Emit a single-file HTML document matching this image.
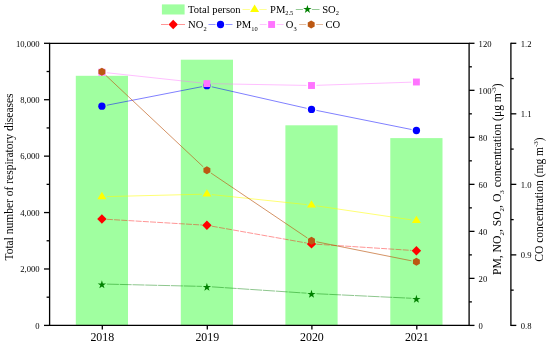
<!DOCTYPE html>
<html><head><meta charset="utf-8"><title>Respiratory diseases and pollutant concentrations</title>
<style>html,body{margin:0;padding:0;background:#fff}svg{display:block}text{font-family:"Liberation Serif","Times New Roman",serif;fill:#000}</style></head><body>
<svg width="550" height="347" viewBox="0 0 550 347">
<rect width="550" height="347" fill="#fff"/>
<rect x="75.80" y="75.80" width="52.2" height="249.60" fill="#A0FFA0"/>
<rect x="180.80" y="59.70" width="52.2" height="265.70" fill="#A0FFA0"/>
<rect x="285.40" y="125.30" width="52.2" height="200.10" fill="#A0FFA0"/>
<rect x="390.30" y="138.10" width="52.2" height="187.30" fill="#A0FFA0"/>
<line x1="106.90" y1="196.58" x2="201.90" y2="194.22" stroke="#FFFF00" stroke-width="0.55"/>
<line x1="211.87" y1="194.62" x2="306.53" y2="204.58" stroke="#FFFF00" stroke-width="0.55"/>
<line x1="316.45" y1="205.83" x2="411.45" y2="219.87" stroke="#FFFF00" stroke-width="0.55"/>
<line x1="106.90" y1="284.12" x2="201.90" y2="286.38" stroke="#008000" stroke-width="0.45" stroke-dasharray="12 0.8"/>
<line x1="211.89" y1="286.83" x2="306.51" y2="293.17" stroke="#008000" stroke-width="0.45" stroke-dasharray="12 0.8"/>
<line x1="316.49" y1="293.74" x2="411.41" y2="298.26" stroke="#008000" stroke-width="0.45" stroke-dasharray="12 0.8"/>
<line x1="106.89" y1="219.30" x2="201.91" y2="225.00" stroke="#FF0000" stroke-width="0.42" stroke-dasharray="6 1.2"/>
<line x1="211.82" y1="226.18" x2="306.58" y2="243.02" stroke="#FF0000" stroke-width="0.42" stroke-dasharray="6 1.2"/>
<line x1="316.49" y1="244.22" x2="411.41" y2="250.38" stroke="#FF0000" stroke-width="0.42" stroke-dasharray="6 1.2"/>
<line x1="106.81" y1="105.24" x2="201.99" y2="86.66" stroke="#0000FF" stroke-width="0.5"/>
<line x1="211.78" y1="86.80" x2="306.62" y2="108.30" stroke="#0000FF" stroke-width="0.5"/>
<line x1="316.40" y1="110.39" x2="411.50" y2="129.51" stroke="#0000FF" stroke-width="0.5"/>
<line x1="106.87" y1="72.74" x2="201.93" y2="83.06" stroke="#FF70FF" stroke-width="0.45"/>
<line x1="211.90" y1="83.69" x2="306.50" y2="85.41" stroke="#FF70FF" stroke-width="0.45"/>
<line x1="316.50" y1="85.33" x2="411.40" y2="82.17" stroke="#FF70FF" stroke-width="0.45"/>
<line x1="105.54" y1="75.12" x2="203.26" y2="166.88" stroke="#BC5812" stroke-width="0.65"/>
<line x1="211.05" y1="173.09" x2="307.35" y2="238.01" stroke="#BC5812" stroke-width="0.65"/>
<line x1="316.40" y1="241.78" x2="411.50" y2="260.82" stroke="#BC5812" stroke-width="0.65"/>
<polygon points="101.90,191.80 97.40,199.20 106.40,199.20" fill="#FFFF00"/>
<polygon points="206.90,189.20 202.40,196.60 211.40,196.60" fill="#FFFF00"/>
<polygon points="311.50,200.20 307.00,207.60 316.00,207.60" fill="#FFFF00"/>
<polygon points="416.40,215.70 411.90,223.10 420.90,223.10" fill="#FFFF00"/>
<polygon points="101.90,280.35 102.89,283.39 106.08,283.39 103.50,285.27 104.49,288.31 101.90,286.43 99.31,288.31 100.30,285.27 97.72,283.39 100.91,283.39" fill="#008000"/>
<polygon points="206.90,282.85 207.89,285.89 211.08,285.89 208.50,287.77 209.49,290.81 206.90,288.93 204.31,290.81 205.30,287.77 202.72,285.89 205.91,285.89" fill="#008000"/>
<polygon points="311.50,289.85 312.49,292.89 315.68,292.89 313.10,294.77 314.09,297.81 311.50,295.93 308.91,297.81 309.90,294.77 307.32,292.89 310.51,292.89" fill="#008000"/>
<polygon points="416.40,294.85 417.39,297.89 420.58,297.89 418.00,299.77 418.99,302.81 416.40,300.93 413.81,302.81 414.80,299.77 412.22,297.89 415.41,297.89" fill="#008000"/>
<polygon points="101.90,214.30 106.60,219.00 101.90,223.70 97.20,219.00" fill="#FF0000"/>
<polygon points="206.90,220.60 211.60,225.30 206.90,230.00 202.20,225.30" fill="#FF0000"/>
<polygon points="311.50,239.20 316.20,243.90 311.50,248.60 306.80,243.90" fill="#FF0000"/>
<polygon points="416.40,246.00 421.10,250.70 416.40,255.40 411.70,250.70" fill="#FF0000"/>
<circle cx="101.90" cy="106.20" r="3.65" fill="#0000FF"/>
<circle cx="206.90" cy="85.70" r="3.65" fill="#0000FF"/>
<circle cx="311.50" cy="109.40" r="3.65" fill="#0000FF"/>
<circle cx="416.40" cy="130.50" r="3.65" fill="#0000FF"/>
<rect x="98.45" y="68.75" width="6.9" height="6.9" fill="#FF74FF"/>
<rect x="203.45" y="80.15" width="6.9" height="6.9" fill="#FF74FF"/>
<rect x="308.05" y="82.05" width="6.9" height="6.9" fill="#FF74FF"/>
<rect x="412.95" y="78.55" width="6.9" height="6.9" fill="#FF74FF"/>
<polygon points="105.36,73.70 101.90,75.70 98.44,73.70 98.44,69.70 101.90,67.70 105.36,69.70" fill="#BC5812"/>
<polygon points="210.36,172.30 206.90,174.30 203.44,172.30 203.44,168.30 206.90,166.30 210.36,168.30" fill="#BC5812"/>
<polygon points="314.96,242.80 311.50,244.80 308.04,242.80 308.04,238.80 311.50,236.80 314.96,238.80" fill="#BC5812"/>
<polygon points="419.86,263.80 416.40,265.80 412.94,263.80 412.94,259.80 416.40,257.80 419.86,259.80" fill="#BC5812"/>
<g stroke="#000" stroke-width="1.3" fill="none" stroke-linecap="butt">
<path d="M49.6,42.65 V325.4 M48.95,325.4 H469.75 M469.1,325.4 V42.65 M49.6,43.3 H469.1 M510.9,42.65 V326.04999999999995"/>
<line x1="44.0" y1="325.40" x2="49.6" y2="325.40"/>
<line x1="46.6" y1="297.19" x2="49.6" y2="297.19"/>
<line x1="44.0" y1="268.98" x2="49.6" y2="268.98"/>
<line x1="46.6" y1="240.77" x2="49.6" y2="240.77"/>
<line x1="44.0" y1="212.56" x2="49.6" y2="212.56"/>
<line x1="46.6" y1="184.35" x2="49.6" y2="184.35"/>
<line x1="44.0" y1="156.14" x2="49.6" y2="156.14"/>
<line x1="46.6" y1="127.93" x2="49.6" y2="127.93"/>
<line x1="44.0" y1="99.72" x2="49.6" y2="99.72"/>
<line x1="46.6" y1="71.51" x2="49.6" y2="71.51"/>
<line x1="44.0" y1="43.30" x2="49.6" y2="43.30"/>
<line x1="102.30000000000001" y1="325.4" x2="102.30000000000001" y2="329.59999999999997"/>
<line x1="207.3" y1="325.4" x2="207.3" y2="329.59999999999997"/>
<line x1="311.9" y1="325.4" x2="311.9" y2="329.59999999999997"/>
<line x1="416.79999999999995" y1="325.4" x2="416.79999999999995" y2="329.59999999999997"/>
<line x1="469.1" y1="325.40" x2="474.5" y2="325.40"/>
<line x1="469.1" y1="301.89" x2="471.90000000000003" y2="301.89"/>
<line x1="469.1" y1="278.38" x2="474.5" y2="278.38"/>
<line x1="469.1" y1="254.88" x2="471.90000000000003" y2="254.88"/>
<line x1="469.1" y1="231.37" x2="474.5" y2="231.37"/>
<line x1="469.1" y1="207.86" x2="471.90000000000003" y2="207.86"/>
<line x1="469.1" y1="184.35" x2="474.5" y2="184.35"/>
<line x1="469.1" y1="160.84" x2="471.90000000000003" y2="160.84"/>
<line x1="469.1" y1="137.33" x2="474.5" y2="137.33"/>
<line x1="469.1" y1="113.83" x2="471.90000000000003" y2="113.83"/>
<line x1="469.1" y1="90.32" x2="474.5" y2="90.32"/>
<line x1="469.1" y1="66.81" x2="471.90000000000003" y2="66.81"/>
<line x1="469.1" y1="43.30" x2="474.5" y2="43.30"/>
<line x1="510.9" y1="325.40" x2="516.3" y2="325.40"/>
<line x1="510.9" y1="290.14" x2="513.6999999999999" y2="290.14"/>
<line x1="510.9" y1="254.88" x2="516.3" y2="254.88"/>
<line x1="510.9" y1="219.61" x2="513.6999999999999" y2="219.61"/>
<line x1="510.9" y1="184.35" x2="516.3" y2="184.35"/>
<line x1="510.9" y1="149.09" x2="513.6999999999999" y2="149.09"/>
<line x1="510.9" y1="113.82" x2="516.3" y2="113.82"/>
<line x1="510.9" y1="78.56" x2="513.6999999999999" y2="78.56"/>
<line x1="510.9" y1="43.30" x2="516.3" y2="43.30"/>
</g>
<text x="39.6" y="328.60" font-size="8.6" text-anchor="end">0</text>
<text x="39.6" y="272.18" font-size="8.6" text-anchor="end">2,000</text>
<text x="39.6" y="215.76" font-size="8.6" text-anchor="end">4,000</text>
<text x="39.6" y="159.34" font-size="8.6" text-anchor="end">6,000</text>
<text x="39.6" y="102.92" font-size="8.6" text-anchor="end">8,000</text>
<text x="39.6" y="46.50" font-size="8.6" text-anchor="end">10,000</text>
<text x="478.6" y="328.60" font-size="8.6">0</text>
<text x="478.6" y="281.58" font-size="8.6">20</text>
<text x="478.6" y="234.57" font-size="8.6">40</text>
<text x="478.6" y="187.55" font-size="8.6">60</text>
<text x="478.6" y="140.53" font-size="8.6">80</text>
<text x="478.6" y="93.52" font-size="8.6">100</text>
<text x="478.6" y="46.50" font-size="8.6">120</text>
<text x="520.8" y="328.60" font-size="8.6">0.8</text>
<text x="520.8" y="258.07" font-size="8.6">0.9</text>
<text x="520.8" y="187.55" font-size="8.6">1.0</text>
<text x="520.8" y="117.02" font-size="8.6">1.1</text>
<text x="520.8" y="46.50" font-size="8.6">1.2</text>
<text x="102.3" y="341.2" font-size="11.9" text-anchor="middle">2018</text>
<text x="207.3" y="341.2" font-size="11.9" text-anchor="middle">2019</text>
<text x="311.9" y="341.2" font-size="11.9" text-anchor="middle">2020</text>
<text x="416.8" y="341.2" font-size="11.9" text-anchor="middle">2021</text>
<text transform="translate(12.7,177.0) rotate(-90)" font-size="11.5" text-anchor="middle">Total number of respiratory diseases</text>
<text transform="translate(501.2,179.2) rotate(-90)" font-size="11.65" text-anchor="middle">PM, NO<tspan font-size="7" dy="2.9">2</tspan><tspan dy="-2.9">, SO</tspan><tspan font-size="7" dy="2.9">2</tspan><tspan dy="-2.9">, O</tspan><tspan font-size="7" dy="2.9">3</tspan><tspan dy="-2.9"> concentration (μg m</tspan><tspan font-size="7" dy="-4.8">-3</tspan><tspan dy="4.8">)</tspan></text>
<text transform="translate(543.1,199.5) rotate(-90)" font-size="11.5" text-anchor="middle">CO concentration (mg m<tspan font-size="7" dy="-4.8">-3</tspan><tspan dy="4.8">)</tspan></text>
<rect x="161.9" y="4.4" width="22.7" height="10.1" fill="#A0FFA0"/>
<line x1="242.5" y1="9.5" x2="249.9" y2="9.5" stroke="#FFFF00" stroke-width="0.42"/>
<line x1="259.3" y1="9.5" x2="266.7" y2="9.5" stroke="#FFFF00" stroke-width="0.42"/>
<polygon points="254.60,4.55 250.10,11.95 259.10,11.95" fill="#FFFF00"/>
<line x1="295.8" y1="9.5" x2="302.9" y2="9.5" stroke="#008000" stroke-width="0.42"/>
<line x1="311.9" y1="9.5" x2="319.5" y2="9.5" stroke="#008000" stroke-width="0.42"/>
<polygon points="307.40,4.95 308.39,7.99 311.58,7.99 309.00,9.87 309.99,12.91 307.40,11.03 304.81,12.91 305.80,9.87 303.22,7.99 306.41,7.99" fill="#008000"/>
<line x1="161.0" y1="24.5" x2="168.2" y2="24.5" stroke="#FF0000" stroke-width="0.42"/>
<line x1="178.2" y1="24.5" x2="185.0" y2="24.5" stroke="#FF0000" stroke-width="0.42"/>
<polygon points="173.20,19.80 177.90,24.50 173.20,29.20 168.50,24.50" fill="#FF0000"/>
<line x1="208.5" y1="24.5" x2="215.5" y2="24.5" stroke="#0000FF" stroke-width="0.42"/>
<line x1="225.5" y1="24.5" x2="232.5" y2="24.5" stroke="#0000FF" stroke-width="0.42"/>
<circle cx="220.50" cy="24.50" r="3.65" fill="#0000FF"/>
<line x1="259.8" y1="24.5" x2="266.6" y2="24.5" stroke="#FF70FF" stroke-width="0.42"/>
<line x1="276.6" y1="24.5" x2="283.5" y2="24.5" stroke="#FF70FF" stroke-width="0.42"/>
<rect x="268.15" y="21.05" width="6.9" height="6.9" fill="#FF74FF"/>
<line x1="299.2" y1="24.5" x2="306.2" y2="24.5" stroke="#BC5812" stroke-width="0.42"/>
<line x1="316.2" y1="24.5" x2="323.0" y2="24.5" stroke="#BC5812" stroke-width="0.42"/>
<polygon points="314.66,26.50 311.20,28.50 307.74,26.50 307.74,22.50 311.20,20.50 314.66,22.50" fill="#BC5812"/>
<text x="188.1" y="12.7" font-size="10.6">Total person</text>
<text x="270" y="12.7" font-size="10.6">PM<tspan font-size="6.4" dy="2.5">2.5</tspan></text>
<text x="322.2" y="12.7" font-size="10.6">SO<tspan font-size="6.4" dy="2.5">2</tspan></text>
<text x="188.1" y="28.2" font-size="10.6">NO<tspan font-size="6.4" dy="2.5">2</tspan></text>
<text x="235.9" y="28.2" font-size="10.6">PM<tspan font-size="6.4" dy="2.5">10</tspan></text>
<text x="285.8" y="28.2" font-size="10.6">O<tspan font-size="6.4" dy="2.5">3</tspan></text>
<text x="325.5" y="28.2" font-size="10.6">CO</text>
</svg></body></html>
